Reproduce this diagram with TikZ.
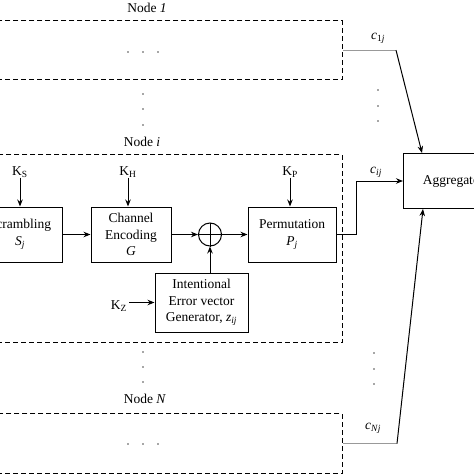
\documentclass[tikz,border=0pt]{standalone}
\usepackage{fontspec}
\setmainfont{Liberation Serif}
\usetikzlibrary{arrows.meta,calc}
\begin{document}
\begin{tikzpicture}[x=1pt,y=-1pt,
  font=\fontsize{13.5}{16.5}\selectfont,
  blk/.style={draw, line width=1pt, align=center, inner sep=0pt},
  grp/.style={draw, line width=1.2pt, dash pattern=on 5pt off 3pt, minimum width=353pt, anchor=north east, inner sep=0pt},
  arr/.style={-{Stealth[length=7pt,width=5.5pt]}, line width=1pt},
  outl/.style={line width=1pt, draw=gray!80},
  lbl/.style={inner sep=0pt},
  dotc/.style={fill=black!70}]
\useasboundingbox (0,0) rectangle (474,474);
\clip (0,0) rectangle (474,474);
% node groups
\node[grp, minimum height=59pt] (g1) at (343,20) {};
\node[grp, minimum height=188pt] (gi) at (343,154) {};
\node[grp, minimum height=60pt] (gN) at (343,413) {};
\node[lbl] (n1) at (147,8) {Node \textit{1}};
\node[lbl] (ni) at (142,142) {Node \textit{i}};
\node[lbl] (nN) at (145,399) {Node \textit{N}};
% blocks
\node[blk, minimum width=84pt, minimum height=55pt] (scr) at (20,234.5) {Scrambling\\ \textit{S}\textsubscript{\textit{j}}};
\node[blk, minimum width=80pt, minimum height=55pt] (ch) at (131,234.5) {Channel\\Encoding\\\textit{G}};
\node[draw, circle, line width=1pt, minimum size=23pt, inner sep=0pt] (xor) at (210,234.5) {};
\draw[line width=1pt] (xor.north) -- (xor.south) (xor.west) -- (xor.east);
\node[blk, minimum width=88pt, minimum height=55pt] (perm) at (292,234.5) {Permutation\\\textit{P}\textsubscript{\textit{j}}};
\node[blk, minimum width=93pt, minimum height=59pt] (err) at (201.5,302.5) {Intentional\\Error vector\\Generator, \textit{z}\textsubscript{\textit{ij}}};
\node[blk, minimum width=100pt, minimum height=55pt, anchor=north west] (agg) at (403,153) {Aggregator};
% keys
\node[lbl] (ks) at (20,172) {K\textsubscript{S}};
\node[lbl] (kh) at (128,172) {K\textsubscript{H}};
\node[lbl] (kp) at (290,172) {K\textsubscript{P}};
\node[lbl] (kz) at (119,306) {K\textsubscript{Z}};
\draw[arr] (ks.south) -- (ks.south |- scr.north);
\draw[arr] (kh.south) -- (kh.south |- ch.north);
\draw[arr] (kp.south) -- (kp.south |- perm.north);
\draw[arr] ([xshift=2pt]err.west -| kz.east) -- (err.west);
% chain
\draw[arr] (scr.east) -- (ch.west);
\draw[arr] (ch.east) -- (xor.west);
\draw[arr] (xor.east) -- (perm.west);
\draw[arr] (err.north -| xor.south) -- (xor.south);
% outputs
\coordinate (bi) at (356,0);
\draw[arr] (perm.east) -- (perm.east -| bi) |- (agg.west);
\coordinate (b1) at (396,0);
\draw[outl] (g1.east) -- (g1.east -| b1) coordinate (t1c);
\draw[arr] (t1c) -- ($(agg.north west)+(19,0)$);
\coordinate (bN) at (397,0);
\draw[outl] (gN.east) -- (gN.east -| bN) coordinate (tNc);
\draw[arr] (tNc) -- ($(agg.south west)+(20,0)$);
\node[lbl] (c1) at (378,38) {\textit{c}\textsubscript{1\textit{j}}};
\node[lbl] (ci) at (376,172) {\textit{c}\textsubscript{\textit{ij}}};
\node[lbl] (cN) at (373,428) {\textit{c}\textsubscript{\textit{N}\textit{j}}};
% dots
\foreach \x in {128,143,158} {
  \fill[dotc] (\x,52) circle (0.8pt);
  \fill[dotc] (\x,444) circle (0.8pt);
}
\foreach \y in {94,109,125,352,367,382} \fill[dotc] (143,\y) circle (0.8pt);
\foreach \y in {90,106,121} \fill[dotc] (378,\y) circle (0.8pt);
\foreach \y in {353,369,384} \fill[dotc] (374,\y) circle (0.8pt);
\end{tikzpicture}
\end{document}
